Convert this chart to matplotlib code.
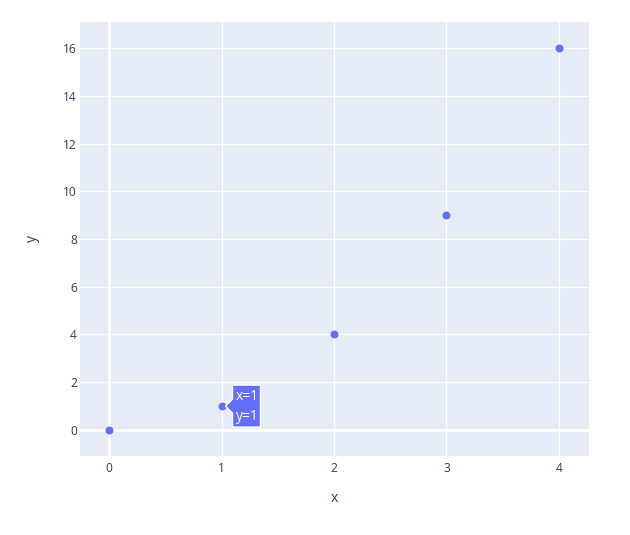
import matplotlib
matplotlib.use("Agg")
import matplotlib.pyplot as plt
import matplotlib.transforms as mtransforms
from matplotlib.patches import Polygon

x = [0, 1, 2, 3, 4]
y = [0, 1, 4, 9, 16]
xticks = [0, 1, 2, 3, 4]
yticks = [0, 2, 4, 6, 8, 10, 12, 14, 16]
hover_idx = 1

plt.rcParams['font.family'] = ['Open Sans', 'DejaVu Sans']
fig = plt.figure(figsize=(6.3, 5.35), dpi=100)
W, H = 630, 535
ax = fig.add_axes([80 / W, 1 - 456 / H, (589 - 80) / W, (456 - 22) / H])
ax.set_facecolor('#e5ecf6')
for s in ax.spines.values():
    s.set_visible(False)
ax.set_xlim(-0.258, 4.267)
ax.set_ylim(-1.09, 17.09)
ax.set_xticks(xticks)
ax.set_yticks(yticks)
ax.tick_params(length=0, labelsize=8.64, labelcolor='#2a3f5f')
ax.tick_params(axis='x', pad=4)
ax.tick_params(axis='y', pad=2.2)
for t in xticks:
    ax.axvline(t, color='white', lw=2.0 if t == 0 else 1.0, zorder=1)
for t in yticks:
    ax.axhline(t, color='white', lw=2.0 if t == 0 else 1.0, zorder=1)
ax.scatter(x, y, s=33, color='#636efa', zorder=3, linewidths=0)
ax.set_xlabel('x', fontsize=10.08, color='#2a3f5f', labelpad=11.5)
ax.set_ylabel('y', fontsize=10.08, color='#2a3f5f', labelpad=17)

# hover label
hx, hy = x[hover_idx], y[hover_idx]
trans = fig.dpi_scale_trans + mtransforms.ScaledTranslation(hx, hy, ax.transData)
px = [(4, 0), (11, 7), (11, 21), (39, 21), (39, -21), (11, -21), (11, -7)]
verts = [(a / 100, b / 100) for a, b in px]
poly = Polygon(verts, closed=True, transform=trans, facecolor='#636efa',
               edgecolor='white', lw=1, zorder=5, clip_on=False)
ax.add_patch(poly)
ax.annotate(f'x={hx}', (hx, hy), xytext=(14 * 0.72, 10 * 0.72), textcoords='offset points',
            ha='left', va='center', color='white', fontsize=10, zorder=6)
ax.annotate(f'y={hy}', (hx, hy), xytext=(14 * 0.72, -10 * 0.72), textcoords='offset points',
            ha='left', va='center', color='white', fontsize=10, zorder=6)

fig.savefig('out.png', dpi=100, facecolor='white')
